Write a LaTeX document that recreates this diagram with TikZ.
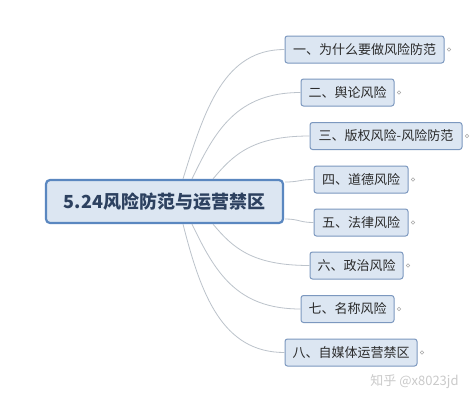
\documentclass[tikz,border=0pt]{standalone}
\usepackage{fontspec}
\newfontfamily\cjk{Noto Sans CJK SC}
\usetikzlibrary{calc}
\definecolor{rootfill}{HTML}{DCE6F2}
\definecolor{rootdraw}{HTML}{5A87C0}
\definecolor{roottext}{HTML}{2D4160}
\definecolor{kidfill}{HTML}{DCE6F2}
\definecolor{kiddraw}{HTML}{7C98BF}
\definecolor{kidtext}{HTML}{2A2A2A}
\definecolor{conncol}{HTML}{BCC3CB}
\definecolor{dotcol}{HTML}{A8A8A8}
\definecolor{wmcol}{HTML}{CACACA}
\tikzset{
  rootbox/.style={draw=rootdraw, line width=2.2pt, fill=rootfill, rounded corners=4pt,
    minimum width=237pt, minimum height=43pt, inner sep=0pt,
    font=\cjk\bfseries\fontsize{18}{20}\selectfont, text=roottext},
  kidbox/.style={draw=kiddraw, line width=1pt, fill=kidfill, rounded corners=2.5pt,
    minimum height=27pt, inner xsep=0pt, inner ysep=0pt,
    font=\cjk\fontsize{13}{15}\selectfont, text=kidtext},
  conn/.style={draw=conncol, line width=0.8pt},
  dotmark/.style={circle, draw=dotcol, fill=white, line width=0.5pt, minimum size=3.6pt, inner sep=0pt},
  wmark/.style={font=\cjk\fontsize{13}{15}\selectfont, text=wmcol}
}
\begin{document}
\begin{tikzpicture}[x=1pt,y=-1pt]
\useasboundingbox[fill=white] (0,0) rectangle (474,402);
\node[rootbox] (root) at (164.5,201.5) {5.24风险防范与运营禁区};
\node[kidbox, minimum width=159pt] (c1) at (364.5,49.5) {一、为什么要做风险防范};
\node[kidbox, minimum width=93pt] (c2) at (347.5,92.5) {二、舆论风险};
\node[kidbox, minimum width=152pt] (c3) at (386,136) {三、版权风险-风险防范};
\node[kidbox, minimum width=94pt] (c4) at (361,179.5) {四、道德风险};
\node[kidbox, minimum width=94pt] (c5) at (361,222.5) {五、法律风险};
\node[kidbox, minimum width=93pt] (c6) at (356.5,265.5) {六、政治风险};
\node[kidbox, minimum width=93pt] (c7) at (347.5,309) {七、名称风险};
\node[kidbox, minimum width=132pt] (c8) at (351,352.5) {八、自媒体运营禁区};
\foreach \i in {1,...,8}{
  \node[dotmark] (d\i) at ($(c\i.east)+(4.5,0)$) {};
}
\draw[conn] ($(root.north)+(18.5,0)$) .. controls +(22,-71) and +(-60,0) .. (c1.west);
\draw[conn] ($(root.north)+(27.5,0)$) .. controls +(23,-48) and +(-64,0) .. (c2.west);
\draw[conn] ($(root.north)+(48.5,0)$) .. controls +(20,-24) and +(-57,0) .. (c3.west);
\draw[conn] ($(root.east)+(1,-19.5)$) .. controls +(14,0) and +(-14,0) .. (c4.west);
\draw[conn] ($(root.east)+(1,17.5)$) .. controls +(14,0) and +(-14,0) .. (c5.west);
\draw[conn] ($(root.south)+(48.5,0)$) .. controls +(20,24) and +(-57,0) .. (c6.west);
\draw[conn] ($(root.south)+(27.5,0)$) .. controls +(23,48) and +(-64,0) .. (c7.west);
\draw[conn] ($(root.south)+(18.5,0)$) .. controls +(18,71) and +(-62,0) .. (c8.west);
\node[wmark] (wm) at (414.5,382) {知乎 @x8023jd};
\end{tikzpicture}
\end{document}
